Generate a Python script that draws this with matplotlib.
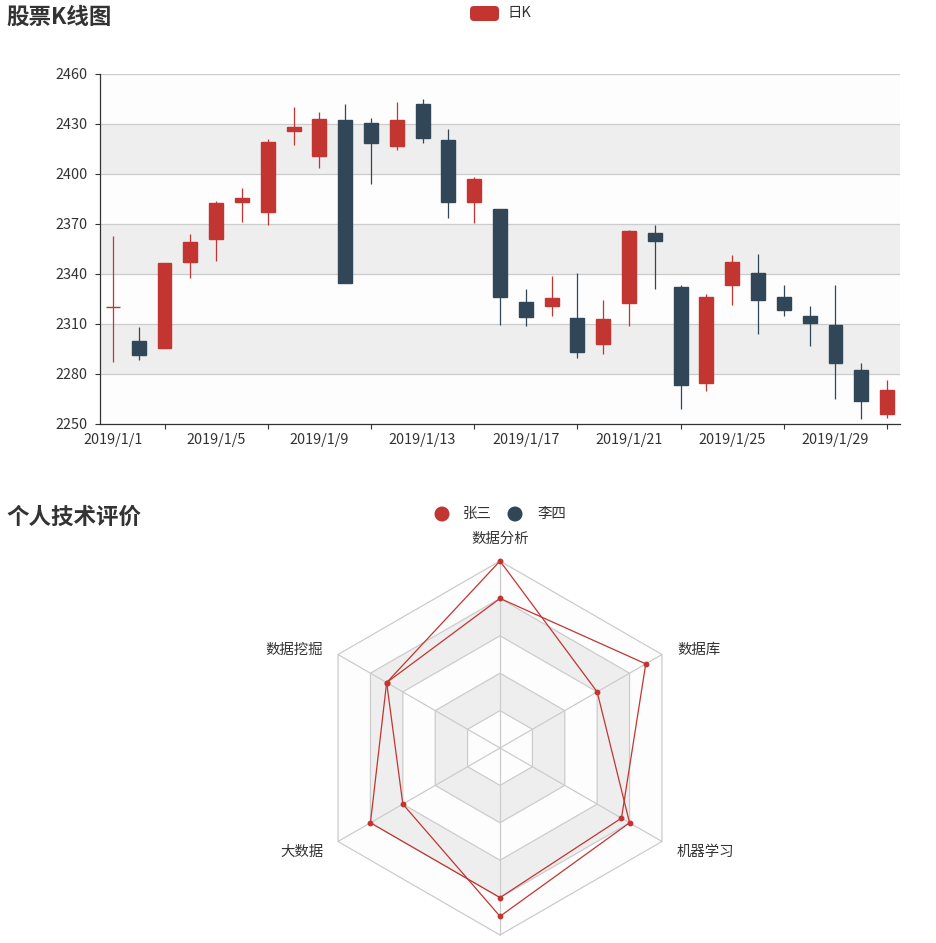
import numpy as np
import matplotlib
matplotlib.use("Agg")
import matplotlib.pyplot as plt
from matplotlib.patches import Rectangle, FancyBboxPatch, Circle, Polygon

plt.rcParams['font.family'] = ['Noto Sans CJK SC', 'DejaVu Sans']

# K line data (open, close, low, high) for each day
dates = ["2019/1/%d" % d for d in range(1, 32)]
opens = [2320.26, 2300, 2295.35, 2347.22, 2360.75, 2383.43, 2377.41, 2425.92,
         2411, 2432.68, 2430.69, 2416.62, 2441.91, 2420.26, 2383.49, 2378.82,
         2322.94, 2320.62, 2313.74, 2297.77, 2322.32, 2364.54, 2332.08, 2274.81,
         2333.61, 2340.44, 2326.42, 2314.68, 2309.16, 2282.17, 2255.77]
closes = [2320.26, 2291.3, 2346.5, 2358.98, 2382.48, 2385.42, 2419.02, 2428.15,
          2433.13, 2334.48, 2418.53, 2432.4, 2421.56, 2382.91, 2397.18, 2325.95,
          2314.16, 2325.82, 2293.34, 2313.22, 2365.59, 2359.51, 2273.4, 2326.31,
          2347.18, 2324.29, 2318.61, 2310.59, 2286.6, 2263.97, 2270.28]
lows = [2287.3, 2288.26, 2295.35, 2337.35, 2347.89, 2371.23, 2369.57, 2417.58,
        2403.3, 2427.7, 2394.22, 2414.4, 2418.43, 2373.53, 2370.61, 2309.17,
        2308.76, 2315.01, 2289.89, 2292.03, 2308.92, 2330.86, 2259.25, 2270.1,
        2321.6, 2304.27, 2314.59, 2296.58, 2264.83, 2253.25, 2253.31]
highs = [2362.94, 2308.38, 2345.92, 2363.8, 2383.76, 2391.82, 2421.15, 2440.38,
         2437.42, 2441.73, 2433.89, 2443.03, 2444.8, 2427.07, 2397.94, 2378.82,
         2330.88, 2338.78, 2340.71, 2324.63, 2366.16, 2369.65, 2333.54, 2328.14,
         2351.44, 2352.02, 2333.67, 2320.96, 2333.29, 2286.33, 2276.22]
y_ticks = [2250, 2280, 2310, 2340, 2370, 2400, 2430, 2460]

# radar data
radar_names = ["数据分析", "数据挖掘", "大数据", "", "机器学习", "数据库"]
radar_max = [100, 100, 100, 100, 100, 100]
zhangsan = [100, 70, 60, 90, 80, 60]
lisi = [80, 70, 80, 80, 75, 90]

up_color = "#c23531"
down_color = "#314656"
text_color = "#333333"
grid_color = "#cccccc"
area_colors = ["#fdfdfd", "#eeeeee"]
fs = 10.4
title_fs = 16.2

W, H = 936, 943
fig = plt.figure(figsize=(W / 100, H / 100), dpi=100)


def px_axes(x0, y0, x1, y1):
    return fig.add_axes([x0 / W, 1 - y1 / H, (x1 - x0) / W, (y1 - y0) / H])


# ---- candlestick chart ----
ax = px_axes(100, 74, 900, 424)
x = np.arange(len(dates))
for i in x:
    o, c, lo, hi = opens[i], closes[i], lows[i], highs[i]
    col = up_color if c >= o else down_color
    ax.vlines(i, lo, hi, color=col, lw=0.9, zorder=3)
    ax.add_patch(Rectangle((i - 0.27, min(o, c)), 0.54, abs(c - o),
                           facecolor=col, edgecolor=col, lw=1.0, zorder=4))

for k, (a, b) in enumerate(zip(y_ticks[:-1], y_ticks[1:])):
    ax.axhspan(a, b, color=area_colors[k % 2], lw=0, zorder=0)
for t in y_ticks[1:]:
    ax.axhline(t, color=grid_color, lw=0.9, zorder=1)

ax.set_xlim(-0.5, len(dates) - 0.5)
ax.set_ylim(y_ticks[0], y_ticks[-1])
ax.set_yticks(y_ticks)
ax.set_xticks(x[::4])
ax.set_xticklabels(dates[::4])
ax.set_xticks(x[2::4], minor=True)
for s in ["top", "right"]:
    ax.spines[s].set_visible(False)
for s in ["left", "bottom"]:
    ax.spines[s].set_color(text_color)
    ax.spines[s].set_linewidth(0.9)
    ax.spines[s].set_zorder(5)
ax.tick_params(axis="y", length=3.6, width=0.8, color=text_color,
               labelcolor=text_color, labelsize=fs, pad=5.5)
ax.tick_params(axis="x", which="major", length=0, labelcolor=text_color,
               labelsize=fs, pad=6.5)
ax.tick_params(axis="x", which="minor", length=3.6, width=0.8, color=text_color)

# ---- radar chart ----
cx, cy, R = 500, 748, 187
rax = px_axes(250, 498, 750, 943)
rax.set_xlim(-250 / R, 250 / R)
rax.set_ylim(-(943 - cy) / R, (cy - 498) / R)
rax.axis("off")

n = len(radar_names)
ang = np.deg2rad(90 + 360 / n * np.arange(n))
for k in range(5, 0, -1):
    r = k / 5
    rax.add_patch(Polygon(np.c_[r * np.cos(ang), r * np.sin(ang)], closed=True,
                          facecolor=area_colors[(k - 1) % 2], edgecolor=grid_color,
                          lw=0.9, zorder=1))
for a in ang:
    rax.plot([0, np.cos(a)], [0, np.sin(a)], color=grid_color, lw=0.9, zorder=2)

for vals in [zhangsan, lisi]:
    r = np.array(vals, dtype=float) / np.array(radar_max)
    xs = np.append(r * np.cos(ang), r[0] * np.cos(ang[0]))
    ys = np.append(r * np.sin(ang), r[0] * np.sin(ang[0]))
    rax.plot(xs, ys, color=up_color, lw=0.9, zorder=3)
    rax.plot(xs[:-1], ys[:-1], "o", color=up_color, ms=3.2, zorder=4)

lab_r = 1 + 15 / R
for name, a in zip(radar_names, ang):
    if not name:
        continue
    ca, sa = np.cos(a), np.sin(a)
    lx, ly = lab_r * ca, lab_r * sa
    if ca > 0.01:
        ha, va = "left", "center"
        lx += 2 / R
        ly -= 3 / R
    elif ca < -0.01:
        ha, va = "right", "center"
        lx -= 2 / R
        ly -= 3 / R
    else:
        ha, va = "center", ("bottom" if sa > 0 else "top")
    rax.text(lx, ly, name, ha=ha, va=va, fontsize=fs,
             color=text_color, clip_on=False)

# ---- titles and legends ----
ov = fig.add_axes([0, 0, 1, 1])
ov.set_xlim(0, W)
ov.set_ylim(H, 0)
ov.axis("off")

ov.text(6, 17, "股票K线图", fontsize=title_fs, fontweight="bold", color=text_color,
        va="center", ha="left")
ov.add_patch(FancyBboxPatch((470, 6), 29, 15, boxstyle="round,pad=0,rounding_size=4",
                            facecolor=up_color, edgecolor="none"))
ov.text(507, 13.5, "日K", fontsize=fs, color=text_color, va="center", ha="left")

ov.text(6, 517, "个人技术评价", fontsize=title_fs, fontweight="bold", color=text_color,
        va="center", ha="left")
ov.add_patch(Circle((442, 514), 7.5, facecolor=up_color, edgecolor="none"))
ov.text(463, 514, "张三", fontsize=fs, color=text_color, va="center", ha="left")
ov.add_patch(Circle((515, 514), 7.5, facecolor=down_color, edgecolor="none"))
ov.text(537, 514, "李四", fontsize=fs, color=text_color, va="center", ha="left")

fig.savefig("out.png", dpi=100, facecolor="white")
